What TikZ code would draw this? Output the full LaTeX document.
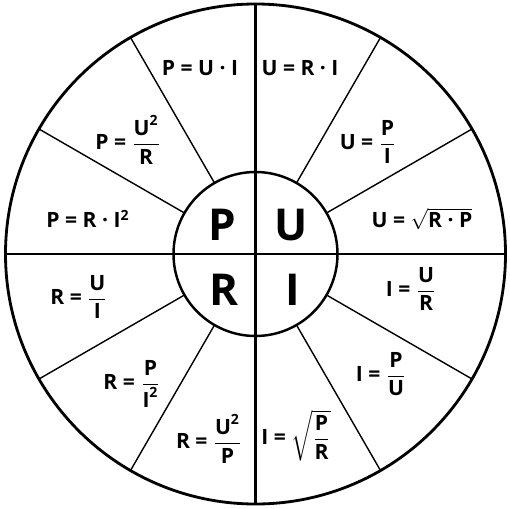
\documentclass[tikz,border=0pt]{standalone}
\usepackage{amsmath}
\usepackage{fontspec}
\setmainfont{Open Sans}
\usepackage{tikz}
\usetikzlibrary{positioning}

\tikzset{
  rim/.style={line width=1.6pt},
  hub/.style={line width=1.4pt},
  spoke/.style={line width=0.8pt},
  formula/.style={font=\fontsize{12}{14}\selectfont\bfseries,inner sep=0pt},
  quantity/.style={font=\fontsize{25}{28}\selectfont\bfseries,inner sep=0pt}
}

\begin{document}
\begin{tikzpicture}
  \useasboundingbox (-5.11,-5.08) rectangle (5.09,5.08);
  % Wheel
  \draw[rim] (0,0) circle (5);
  \draw[hub] (0,0) circle (1.64);
  \draw[rim] (90:5) -- (270:5);
  \draw[rim] (180:5) -- (0:5);
  % Spokes between the two circles
  \draw[spoke] (30:1.64) -- (30:5);
  \draw[spoke] (60:1.64) -- (60:5);
  \draw[spoke] (120:1.64) -- (120:5);
  \draw[spoke] (150:1.64) -- (150:5);
  \draw[spoke] (210:1.64) -- (210:5);
  \draw[spoke] (240:1.64) -- (240:5);
  \draw[spoke] (300:1.64) -- (300:5);
  \draw[spoke] (330:1.64) -- (330:5);
  % Hub letters
  \node[quantity] (hubP) at (-0.66,0.58) {P};
  \node[quantity] (hubU) at (0.72,0.58) {U};
  \node[quantity] (hubR) at (-0.64,-0.71) {R};
  \node[quantity] (hubI) at (0.74,-0.71) {I};
  % Power
  \node[formula] (pUI) at (-1.11,3.72) {P = U · I};
  \node[formula] (pUR) at (-2.55,2.28) {P = $\dfrac{\text{U}^{\text{2}}}{\text{R}}$};
  \node[formula] (pRI) at (-3.35,0.70) {P = R · I\textsuperscript{2}};
  % Voltage
  \node[formula] (uRI) at (0.89,3.72) {U = R · I};
  \node[formula] (uPI) at (2.25,2.24) {U = $\dfrac{\text{P}}{\text{I}}$};
  \node[formula] (uRP) at (3.33,0.70) {U = $\sqrt{\text{R · P}}$};
  % Resistance
  \node[formula] (rUI) at (-3.53,-0.86) {R = $\dfrac{\text{U}}{\text{I}}$};
  \node[formula] (rPI) at (-2.47,-2.60) {R = $\dfrac{\text{P}}{\text{I}^{\text{2}}}$};
  \node[formula] (rUP) at (-0.93,-3.70) {R = $\dfrac{\text{U}^{\text{2}}}{\text{P}}$};
  % Current
  \node[formula] (iUR) at (3.11,-0.70) {I = $\dfrac{\text{U}}{\text{R}}$};
  \node[formula] (iPU) at (2.51,-2.40) {I = $\dfrac{\text{P}}{\text{U}}$};
  \node[formula] (iPR) at (0.81,-3.64) {I = $\sqrt{\dfrac{\text{P}}{\text{R}}}$};
\end{tikzpicture}
\end{document}
